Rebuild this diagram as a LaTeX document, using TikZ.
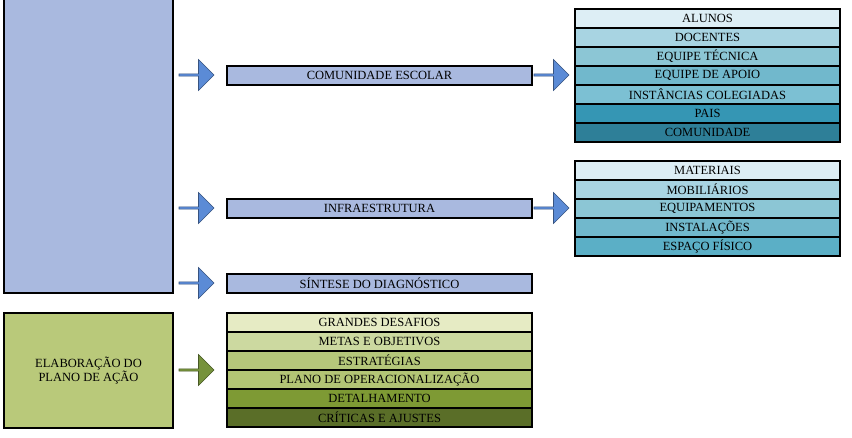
\documentclass[tikz,border=0pt]{standalone}
\usepackage{fontspec}
\setmainfont{Liberation Serif}
\usetikzlibrary{shapes.arrows}
\definecolor{bigblue}{HTML}{A9B9DF}
\definecolor{arrblue}{HTML}{5B8BD6}
\definecolor{arrgreen}{HTML}{76923C}
\begin{document}
\begin{tikzpicture}[x=1pt,y=-1pt,
  bar/.style={draw=black,line width=1.4pt},
  txt/.style={font=\fontsize{12.5}{14}\selectfont},
  arr/.style={single arrow,draw=#1!60!black,fill=#1,line width=0.6pt,minimum width=31pt,single arrow head extend=4pt,minimum height=35pt,inner sep=0pt,shape border rotate=0}]
\useasboundingbox (0,0) rectangle (852,438);
\fill[white] (0,0) rectangle (852,438);
\draw[bar,fill=bigblue] (4,-5) rectangle (173,293);
\draw[bar,fill={rgb,255:red,185;green,201;blue,122}] (4,313) rectangle (173,428);
\node[txt,align=center] (ela) at (88.5,370.5) {ELABORAÇÃO DO\\PLANO DE AÇÃO};
\node[arr=arrblue] (a1) at (196,75) {};
\node[arr=arrblue] (a2) at (196,208) {};
\node[arr=arrblue] (a3) at (196,283) {};
\node[arr=arrgreen] (a4) at (196,370) {};
\node[arr=arrblue] (a5) at (551,75) {};
\node[arr=arrblue] (a6) at (551,208) {};
\draw[bar,fill=bigblue] (227,66) rectangle (532,85) node[midway,txt] (ce) {COMUNIDADE ESCOLAR};
\draw[bar,fill=bigblue] (227,199) rectangle (532,218) node[midway,txt] (inf) {INFRAESTRUTURA};
\draw[bar,fill=bigblue] (227,274) rectangle (532,293) node[midway,txt] (sin) {SÍNTESE DO DIAGNÓSTICO};
\foreach \t/\c [count=\i from 0] in {ALUNOS/DDEEF5,DOCENTES/A8D4E2,EQUIPE TÉCNICA/8CC6D5,EQUIPE DE APOIO/71B8CC,INSTÂNCIAS COLEGIADAS/7CC0D3,PAIS/3596B4,COMUNIDADE/2E7F98}{
  \definecolor{tmp}{HTML}{\c}
  \draw[bar,fill=tmp] (575,9+19*\i) rectangle (840,28+19*\i) node[midway,txt] (c\i) {\t};}
\foreach \t/\c [count=\i from 0] in {MATERIAIS/DDEEF5,MOBILIÁRIOS/A8D4E2,EQUIPAMENTOS/8CC6D5,INSTALAÇÕES/71B8CC,ESPAÇO FÍSICO/5BAFC6}{
  \definecolor{tmp}{HTML}{\c}
  \draw[bar,fill=tmp] (575,161+19*\i) rectangle (840,180+19*\i) node[midway,txt] (i\i) {\t};}
\foreach \t/\c [count=\i from 0] in {GRANDES DESAFIOS/E6EBC4,METAS E OBJETIVOS/CCD9A0,ESTRATÉGIAS/B5C77A,PLANO DE OPERACIONALIZAÇÃO/B3C575,DETALHAMENTO/7E9A34,CRÍTICAS E AJUSTES/5A6E28}{
  \definecolor{tmp}{HTML}{\c}
  \draw[bar,fill=tmp] (227,313+19*\i) rectangle (532,332+19*\i) node[midway,txt] (g\i) {\t};}
\end{tikzpicture}
\end{document}
